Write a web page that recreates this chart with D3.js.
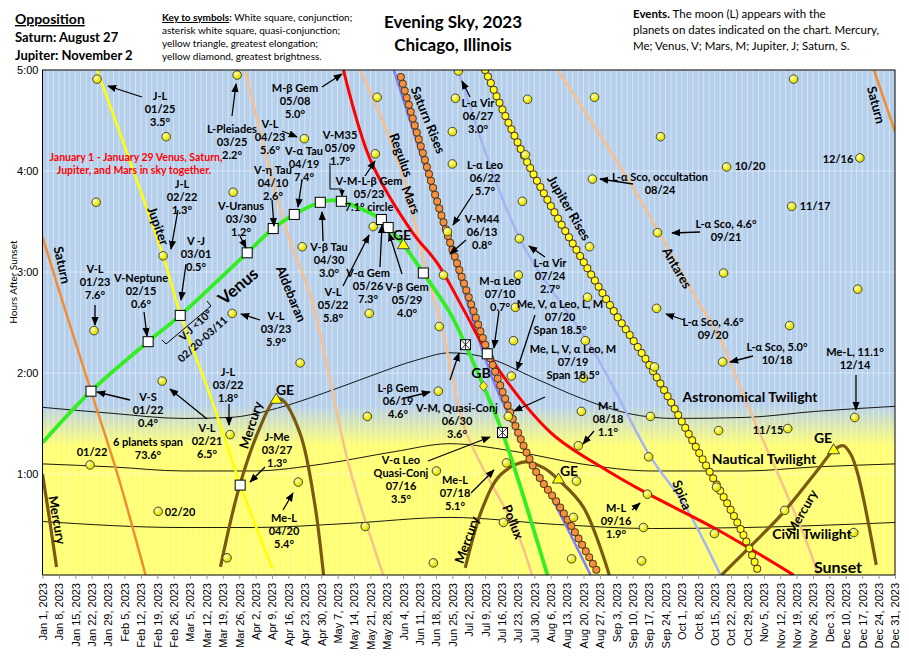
<!DOCTYPE html>
<html><head><meta charset="utf-8">
<script src="https://cdn.jsdelivr.net/npm/d3@7"></script>
<style>body{margin:0;background:#fff}svg{font-family:Lato,"Open Sans",sans-serif}</style>
</head><body><div id="chart"></div>
<script>
// day of year (0 = Jan 1, 2023), hours after sunset
const saturn1 = [[0,3.35],[10,2.6],[20.7,1.82],[32,1.0],[44,0]];
const saturn2 = [[355,5.0],[364,4.39]];
const mercury1 = [[0,1.0],[3,0.55],[6,0.08]];
const mercury2 = [[76,0.08],[84,0.87],[93,1.47],[99,1.73],[102,1.74],[110,1.4],[116,0.74],[120,0]];
const mercury3 = [[180.5,0.07],[188,0.67],[195.5,0.99],[206,1.12],[214,1.06],[220,0.95],[231,0.67],[242,0]];
const mercury4 = [[290,0],[303,0.3],[316,0.61],[331,1.04],[338,1.24],[342,1.28],[345,1.2],[348,1.01],[356,0.1]];
const venus = [[0,1.31],[20.7,1.82],[45.1,2.31],[58.8,2.57],[87.4,3.19],[98.5,3.43],[107.5,3.57],[118.6,3.69],[122.9,3.71],[127.6,3.70],[144.7,3.52],[147.6,3.44],[154.1,3.27],[162.6,2.99],[174.1,2.59],[180.6,2.28],[188.3,1.87],[196.4,1.41],[215.6,0]];
const jupiter = [[23.3,5.0],[51.6,3.15],[59,2.57],[72,1.75],[84.5,0.89],[98,0.07]];
const mars = [[128.5,5.0],[140,4.11],[158,3.39],[168.5,3.09],[180,2.62],[191,2.16],[217,1.41],[240,1.05],[258,0.81],[288,0.45],[320.7,0]];
const regulus = [[150,5.0],[167.7,3.71],[180,2.8],[192,1.95],[205,1.3],[220,0.65],[234,0]];
const saturnRises = [[153,4.93],[171,3.51],[182,2.75],[192.5,2.06],[209.6,1.07],[221,0.67],[237,0.03]];
const jupiterRises = [[189,5.0],[208,4.04],[241,2.72],[259.6,2.06],[282,1.14],[299,0.41],[306,0.01]];
const spica = [[177.5,5.0],[204,3.32],[235,2.23],[259.6,1.17],[273.7,0.71],[289.5,0]];
const antares = [[220,5.0],[252,3.84],[279.6,2.72],[288,2.4],[302,1.63],[316.5,0.87],[328,0.22],[331,0]];
const aldebaran = [[86.5,5.0],[104.5,3.39],[115,2.72],[131,1.07],[145.5,0]];
const pollux = [[135.7,5.0],[152.8,4.04],[163,3.1],[171,2.4],[181,1.41],[202.7,0.42],[209,0]];
const astroTwilight = [[0,1.66],[30,1.6],[60,1.55],[80,1.56],[100,1.65],[120,1.8],[140,1.97],[160,2.13],[174,2.2],[190,2.15],[210,1.95],[230,1.75],[250,1.6],[270,1.55],[300,1.56],[330,1.62],[364,1.67]];
const nauticalTwilight = [[0,1.1],[30,1.07],[60,1.03],[90,1.03],[120,1.1],[150,1.22],[174,1.3],[200,1.23],[230,1.1],[260,1.03],[300,1.03],[330,1.07],[364,1.1]];
const civilTwilight = [[0,0.53],[60,0.47],[90,0.47],[130,0.51],[174,0.57],[220,0.5],[260,0.46],[300,0.47],[364,0.52]];
const moons = [[23.3,4.91],[83.1,4.95],[111.8,4.32],[52.8,4.34],[22.9,3.69],[81.4,3.79],[51.5,3.16],[110.9,3.25],[141.2,3.45],[142.9,4.73],[142.1,4.17],[171.2,2.97],[172.9,3.40],[177.6,4.99],[176.3,4.72],[207.1,4.71],[235.7,4.73],[320.7,4.91],[263.9,4.34],[175.0,4.39],[206.2,4.16],[175.0,4.07],[292.1,4.04],[349.0,4.13],[234.8,3.92],[204.9,3.70],[319.9,3.65],[262.6,3.39],[233.6,3.25],[203.6,3.33],[290.8,2.99],[348.1,2.83],[203.2,2.97],[232.7,2.75],[22.0,2.42],[81.0,2.59],[51.1,1.92],[110.0,2.10],[139.5,2.59],[169.4,2.46],[169.0,1.82],[138.7,1.57],[80.1,1.39],[20.3,1.09],[109.2,0.92],[49.4,0.63],[137.8,0.48],[78.8,0.17],[166.9,0.12],[168.2,1.03],[201.9,2.65],[262.2,2.64],[319.0,2.47],[201.1,2.32],[231.8,2.32],[290.4,2.11],[200.2,1.97],[231.0,1.95],[261.3,2.06],[198.9,1.57],[230.1,1.62],[259.6,1.57],[288.7,1.43],[318.2,1.45],[346.8,1.56],[228.8,1.28],[258.8,1.17],[198.1,1.11],[228.0,0.93],[258.3,0.80],[287.8,0.87],[316.9,0.64],[196.8,0.52],[226.7,0.57],[256.6,0.47],[286.9,0.41],[346.4,0.42],[225.9,0.16],[255.8,0.14]];
const conjunctions = [[20.7,1.82],[45.1,2.31],[58.8,2.57],[87.4,3.19],[98.5,3.43],[107.5,3.57],[118.6,3.69],[127.6,3.70],[144.7,3.52],[147.6,3.44],[162.6,2.99],[84.4,0.89],[189.9,2.19]];
const quasiConj = [[180.6,2.28],[196.4,1.41]];
const elongations = [[99.8,1.74],[220.3,0.95],[337.8,1.24],[154.1,3.27]];
const brightness = [[188.3,1.87]];
const hourTicks = [1,2,3,4,5];

const W = 909, H = 660;
const x = d3.scaleLinear().domain([0,364]).range([42.5,895]);
const y = d3.scaleLinear().domain([0,5]).range([575,70]);
const jan1 = new Date(Date.UTC(2023,0,1));
const fmt = d3.utcFormat("%b %-d, %Y");

const svg = d3.select("#chart").append("svg").attr("width",W).attr("height",H);
const defs = svg.append("defs");
const g = defs.append("linearGradient").attr("id","bg").attr("x1",0).attr("x2",0).attr("y1",0).attr("y2",1);
g.append("stop").attr("offset",((y(1.68)-70)/505)).attr("stop-color","#b6d0ec");
g.append("stop").attr("offset",((y(1.28)-70)/505)).attr("stop-color","#ffff70");
g.append("stop").attr("offset",1).attr("stop-color","#ffff70");
defs.append("clipPath").attr("id","clip").append("rect").attr("x",x(0)).attr("y",y(5)).attr("width",x(364)-x(0)).attr("height",y(0)-y(5));
const mk = defs.append("marker").attr("id","arr").attr("viewBox","0 0 10 10").attr("refX",9).attr("refY",5)
  .attr("markerWidth",7).attr("markerHeight",7).attr("orient","auto");
mk.append("path").attr("d","M0,1L10,5L0,9z").attr("fill","#000");

svg.append("rect").attr("x",x(0)).attr("y",y(5)).attr("width",x(364)-x(0)).attr("height",y(0)-y(5)).attr("fill","url(#bg)");

// grid
const grid = svg.append("g").attr("stroke","#fff").attr("stroke-opacity",0.55).attr("stroke-width",0.8);
d3.range(0,365,7/3).forEach(d=>grid.append("line").attr("x1",x(d)).attr("x2",x(d)).attr("y1",y(0)).attr("y2",y(5)));
hourTicks.forEach(h=>grid.append("line").attr("x1",x(0)).attr("x2",x(364)).attr("y1",y(h)).attr("y2",y(h)));

const plot = svg.append("g").attr("clip-path","url(#clip)");
const line = d3.line().x(d=>x(d[0])).y(d=>y(d[1])).curve(d3.curveMonotoneX);
const lineC = d3.line().x(d=>x(d[0])).y(d=>y(d[1])).curve(d3.curveCatmullRom);
function draw(data,color,w,gen=lineC){plot.append("path").attr("d",gen(data)).attr("fill","none").attr("stroke",color).attr("stroke-width",w).attr("stroke-linejoin","round");}

[astroTwilight,nauticalTwilight,civilTwilight].forEach(t=>draw(t,"#000",0.9,line));
draw(aldebaran,"#f9c08e",2.5); draw(pollux,"#f9c08e",2.5); draw(antares,"#f9c08e",2.5);
draw(spica,"#a4b4f4",2.5); draw(regulus,"#8080ff",2.5);
draw(saturn1,"#f28c32",2.5); draw(saturn2,"#f28c32",2.5);
[mercury1,mercury2,mercury3,mercury4].forEach(m=>draw(m,"#7a5a12",3.2));
draw(jupiter,"#ffff00",2.5);
draw(mars,"#ff0000",3);
draw(venus,"#33ee22",3.8);
function dots(data,color){
  const p = lineC(data);
  plot.append("path").attr("d",p).attr("fill","none").attr("stroke","#5a3a10").attr("stroke-width",8).attr("stroke-linecap","round").attr("stroke-dasharray","0 7.2");
  plot.append("path").attr("d",p).attr("fill","none").attr("stroke",color).attr("stroke-width",6).attr("stroke-linecap","round").attr("stroke-dasharray","0 7.2");
}
dots(saturnRises,"#f39043"); dots(jupiterRises,"#ffff22");

const mg = defs.append("radialGradient").attr("id","moon").attr("cx","0.35").attr("cy","0.35");
mg.append("stop").attr("offset",0).attr("stop-color","#ffffc0");
mg.append("stop").attr("offset",1).attr("stop-color","#e6e600");
plot.selectAll(".moon").data(moons).join("circle").attr("cx",d=>x(d[0])).attr("cy",d=>y(d[1])).attr("r",4.3)
  .attr("fill","url(#moon)").attr("stroke","#444").attr("stroke-width",1);
plot.selectAll(".cj").data(conjunctions.concat(quasiConj)).join("rect").attr("x",d=>x(d[0])-5).attr("y",d=>y(d[1])-5)
  .attr("width",10).attr("height",10).attr("fill","#fff").attr("stroke","#000").attr("stroke-width",1);
quasiConj.forEach(d=>{const cx=x(d[0]),cy=y(d[1]);
  plot.append("path").attr("d",`M${cx-5},${cy-5}L${cx+5},${cy+5}M${cx+5},${cy-5}L${cx-5},${cy+5}M${cx},${cy-5}L${cx},${cy+5}`).attr("stroke","#000").attr("stroke-width",0.8);});
plot.selectAll(".ge").data(elongations).join("path").attr("d",d=>{const cx=x(d[0]),cy=y(d[1]);return `M${cx},${cy-6}L${cx+6},${cy+4}L${cx-6},${cy+4}Z`;})
  .attr("fill","#ffff00").attr("stroke","#444");
plot.selectAll(".gb").data(brightness).join("path").attr("d",d=>{const cx=x(d[0]),cy=y(d[1]);return `M${cx},${cy-5}L${cx+4},${cy}L${cx},${cy+5}L${cx-4},${cy}Z`;})
  .attr("fill","#ffff00").attr("stroke","#666");

svg.append("rect").attr("x",x(0)).attr("y",y(5)).attr("width",x(364)-x(0)).attr("height",y(0)-y(5)).attr("fill","none").attr("stroke","#000");

// axes
const xa = svg.append("g").attr("transform",`translate(0,${y(0)})`).call(d3.axisBottom(x).tickValues(d3.range(0,365,7)).tickSize(4).tickFormat(d=>fmt(d3.utcDay.offset(jan1,d))));
xa.select(".domain").remove();
xa.selectAll("text").attr("transform","rotate(-90)").attr("text-anchor","end").attr("x",-8).attr("y",0).attr("dy","0.35em").attr("font-size",11).attr("fill","#000");
xa.selectAll("line").attr("stroke","#999");
const ya = svg.append("g").attr("transform",`translate(${x(0)},0)`).call(d3.axisLeft(y).tickValues(hourTicks).tickSize(0).tickFormat(d=>d+":00"));
ya.select(".domain").remove();
ya.selectAll("text").attr("font-size",11).attr("x",-4).attr("fill","#000");
svg.append("text").attr("transform",`translate(17,${y(2.9)}) rotate(-90)`).attr("text-anchor","middle").attr("font-size",10).text("Hours After Sunset");

// header
const T = (t,px,py,o={})=>{const e=svg.append("text").attr("x",px).attr("y",py).attr("font-size",o.fs||11).attr("font-weight",o.fw||"bold")
  .attr("text-anchor",o.a||"start").attr("fill",o.c||"#000").text(t);if(o.u)e.attr("text-decoration","underline");if(o.r!=null)e.attr("transform",`rotate(${o.r},${px},${py})`);return e;};
T("Opposition",15,24,{fs:14,u:1}); T("Saturn: August 27",15,42,{fs:13}); T("Jupiter: November 2",15,60,{fs:13});
const key=svg.append("text").attr("x",162).attr("y",21).attr("font-size",10);
key.append("tspan").attr("font-weight","bold").attr("text-decoration","underline").text("Key to symbols");
key.append("tspan").attr("font-weight","bold").text(":");
key.append("tspan").text("  White square, conjunction;");
["asterisk white square, quasi-conjunction;","yellow triangle, greatest elongation;","yellow diamond, greatest brightness."].forEach((t,i)=>T(t,162,34+13*i,{fs:10,fw:"normal"}));
T("Evening Sky, 2023",453,28,{fs:17,a:"middle"}); T("Chicago, Illinois",453,51,{fs:17,a:"middle"});
const ev=svg.append("text").attr("x",633).attr("y",18).attr("font-size",11.5);
ev.append("tspan").attr("font-weight","bold").text("Events.");
ev.append("tspan").text("  The moon (L) appears with the");
T("planets on dates indicated on the chart. Mercury,",633,34,{fs:11.5,fw:"normal"});
T("Me;  Venus, V;  Mars, M; Jupiter, J; Saturn, S.",633,50,{fs:11.5,fw:"normal"});

// annotations: [lines, cx, cy(first line), arrow]
const notes = [
 [["J-L","01/25","3.5°"],160,100,[142,97,108,86]],
 [["L-Pleiades","03/25","2.2°"],232,133,[232,116,236,84]],
 [["M-β Gem","05/08","5.0°"],295,92,[322,87,342,74]],
 [["V-L","04/23","5.6°"],270,128,[282,131,297,137]],
 [["V-α Tau","04/19","7.4°"],304,155,[302,180,298,207]],
 [["V-M35","05/09","1.7°"],340,139,null],
 [["V-η Tau","04/10","2.6°"],273,174,[272,200,274,226]],
 [["V-Uranus","03/30","1.2°"],241,210,[240,236,246,248]],
 [["V-M-L-β Gem","05/23","7.1° circle"],369,185,[365,176,375,161]],
 [["V-β Tau","04/30","3.0°"],329,251,[323,241,322,212]],
 [["V-α Gem","05/26","7.3°"],368,277,[380,267,382,225]],
 [["V-β Gem","05/29","4.0°"],407,291,[402,274,389,233]],
 [["V-L","05/22","5.8°"],333,296,[343,286,369,235]],
 [["J-L","02/22","1.3°"],182,188,[178,210,171,249]],
 [["V -J","03/01","0.5°"],196,245,[186,264,181,300]],
 [["V-L","01/23","7.6°"],95,273,[95,305,95,325]],
 [["V-Neptune","02/15","0.6°"],141,282,[144,312,147,336]],
 [["V-S","01/22","0.4°"],148,401,[130,400,97,392]],
 [["6 planets span","73.6°"],148,446,null],
 [["V-L","02/21","6.5°"],207,432,[207,419,170,389]],
 [["J-L","03/22","1.8°"],228,376,[229,404,229,425]],
 [["J-Me","03/27","1.3°"],277,441,[265,467,250,482]],
 [["Me-L","04/20","5.4°"],284,522,[283,510,293,493]],
 [["V-L","03/23","5.9°"],276,320,[260,320,241,314]],
 [["L-α Vir","06/27","3.0°"],478,107,[470,97,462,81]],
 [["L-α Leo","06/22","5.7°"],485,169,[473,194,453,225]],
 [["V-M44","06/13","0.8°"],482,223,[466,240,450,254]],
 [["L-α Vir","07/24","2.7°"],550,267,[545,257,529,246]],
 [["M-α Leo","07/10","0.7°"],500,285,[499,311,494,348]],
 [["Me, V, α Leo, L, M","07/20","Span 18.5°"],560,308,[535,315,517,370]],
 [["Me, L, V, α Leo, M","07/19","Span 18.5°"],573,353,[545,397,514,411]],
 [["V-M, Quasi-Conj","06/30","3.6°"],457,412,[450,380,459,353]],
 [["L-β Gem","06/19","4.6°"],398,392,[405,398,430,392]],
 [["V-α Leo","Quasi-Conj","07/16","3.5°"],401,464,[428,461,490,437]],
 [["Me-L","07/18","5.1°"],455,484,[471,493,494,470]],
 [["M-L","08/18","1.1°"],608,410,[594,431,583,444]],
 [["M-L","09/16","1.9°"],616,512,[632,510,640,503]],
 [["L-α Sco, occultation","08/24"],660,181,[633,184,600,179]],
 [["L-α Sco, 4.6°","09/21"],726,228,[700,232,672,233]],
 [["L-α Sco, 4.6°","09/20"],713,326,[684,320,666,314]],
 [["L-α Sco, 5.0°","10/18"],777,351,[753,356,730,362]],
 [["Me-L, 11.1°","12/14"],855,356,[856,375,856,410]],
];
notes.forEach(([ls,cx,cy,a])=>{
  ls.forEach((t,i)=>T(t,cx,cy+13*i,{a:"middle",fs:11}));
  if(a) svg.append("line").attr("x1",a[0]).attr("y1",a[1]).attr("x2",a[2]).attr("y2",a[3]).attr("stroke","#000").attr("stroke-width",1.3).attr("marker-end","url(#arr)");
});
svg.append("path").attr("d","M330,163L330,189L342,189").attr("fill","none").attr("stroke","#000");
svg.append("line").attr("x1",342).attr("y1",189).attr("x2",342).attr("y2",196).attr("stroke","#000").attr("marker-end","url(#arr)");
svg.append("path").attr("d","M162,340L166,344L211,306L207,301").attr("fill","none").attr("stroke","#000");
T("V-J <10°",198,328,{a:"middle",fs:10.5,r:-42}); T("02/20-03/11",205,342,{a:"middle",fs:10.5,r:-42});
T("January 1 - January 29 Venus, Saturn,",136,161,{a:"middle",fs:10.5,c:"#ff0000"});
T("Jupiter, and Mars in sky together.",134,174,{a:"middle",fs:10.5,c:"#ff0000"});
[["01/22",92,456],["02/20",180,516],["10/20",750,170],["11/17",815,210],["12/16",838,163],["11/15",768,434]].forEach(([t,px,py])=>T(t,px,py,{a:"middle",fs:11}));
[["GE",285,395,14],["GE",402,240,14],["GB",481,378,14],["GE",569,476,14],["GE",823,443,14],
 ["Astronomical Twilight",750,402,14],["Nautical Twilight",764,464,14],["Civil Twilight",812,539,14],["Sunset",838,573,16]]
 .forEach(([t,px,py,f])=>T(t,px,py,{a:"middle",fs:f}));
[["Saturn",62,265,78],["Jupiter",158,226,70],["Venus",238,286,-40],["Aldebaran",291,294,68],["Mercury",57,520,80],["Mercury",251,425,-72],
 ["Regulus",401,155,70],["Saturn Rises",428,120,68],["Mars",411,200,68],["Saturn",876,105,75],["Jupiter Rises",569,208,60],["Antares",677,268,60],
 ["Spica",682,495,68],["Mercury",802,512,-60],["Mercury",467,540,-70],["Pollux",513,522,68]]
 .forEach(([t,px,py,r])=>T(t,px,py,{a:"middle",fs:t==="Venus"?17:13,r:r}).attr("dy","0.35em"));
</script></body></html>
